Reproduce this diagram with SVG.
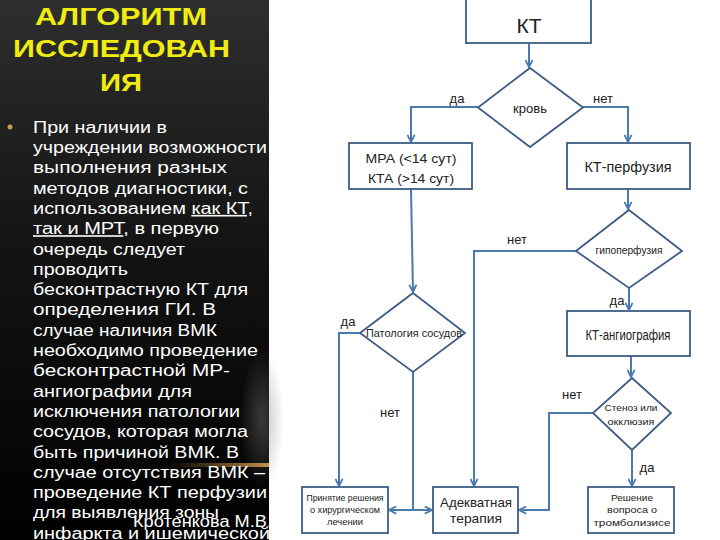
<svg xmlns="http://www.w3.org/2000/svg" width="720" height="540" viewBox="0 0 720 540">
<defs>
<linearGradient id="panel" x1="0" y1="0" x2="0" y2="1">
<stop offset="0" stop-color="#2e2e2e"/>
<stop offset="0.45" stop-color="#141414"/>
<stop offset="1" stop-color="#000"/>
</linearGradient>
<linearGradient id="streak" x1="0" y1="0" x2="1" y2="0">
<stop offset="0" stop-color="#c08a40" stop-opacity="0"/>
<stop offset="1" stop-color="#d8a050" stop-opacity="0.9"/>
</linearGradient>
<radialGradient id="glow" cx="0.5" cy="0.5" r="0.5">
<stop offset="0" stop-color="#777" stop-opacity="0.45"/>
<stop offset="1" stop-color="#777" stop-opacity="0"/>
</radialGradient>
<marker id="ah" viewBox="0 0 10 10" refX="9" refY="5" markerWidth="9" markerHeight="9" markerUnits="userSpaceOnUse" orient="auto-start-reverse">
<path d="M1,1 L9,5 L1,9" fill="none" stroke="#4a7ab0" stroke-width="2"/>
</marker>
</defs>
<style>
.title{font-family:"Liberation Sans",Arial,sans-serif;font-weight:bold;font-size:24px;fill:#f0ec10}
.body{font-family:"Liberation Sans",Arial,sans-serif;font-size:16px;fill:#ffffff}
.u{text-decoration:underline}
.box{fill:#ffffff;stroke:#3e5d85;stroke-width:1.8}
.dia{fill:#ffffff;stroke:#3e5d85;stroke-width:1.8}
.conn{fill:none;stroke:#4a7ab0;stroke-width:2}
.arr{marker-end:url(#ah)}
.t{font-family:"Liberation Sans",Arial,sans-serif;fill:#222;text-anchor:middle}
.lbl{font-family:"Liberation Sans",Arial,sans-serif;font-size:13px;fill:#222;text-anchor:middle}
</style>
<rect x="0" y="0" width="720" height="540" fill="#ffffff"/>
<rect x="0" y="0" width="269" height="540" fill="url(#panel)"/>
<ellipse cx="262" cy="420" rx="22" ry="70" fill="url(#glow)"/>
<rect x="170" y="463" width="99" height="4" fill="url(#streak)"/>

<g id="left-text">
<text class="title" x="35" y="25" textLength="172" lengthAdjust="spacingAndGlyphs">АЛГОРИТМ</text>
<text class="title" x="13" y="57" textLength="217" lengthAdjust="spacingAndGlyphs">ИССЛЕДОВАН</text>
<text class="title" x="100" y="91" textLength="42" lengthAdjust="spacingAndGlyphs">ИЯ</text>
<circle cx="10" cy="127" r="2.5" fill="#c8a048"/>
<text class="body" x="33" y="132.7" textLength="134" lengthAdjust="spacingAndGlyphs">При наличии в</text>
<text class="body" x="33" y="153" textLength="234" lengthAdjust="spacingAndGlyphs">учреждении возможности</text>
<text class="body" x="33" y="173.3" textLength="194" lengthAdjust="spacingAndGlyphs">выполнения разных</text>
<text class="body" x="33" y="193.6" textLength="215" lengthAdjust="spacingAndGlyphs">методов диагностики, с</text>
<text class="body" x="33" y="213.9" textLength="220" lengthAdjust="spacingAndGlyphs">использованием <tspan class="u">как КТ,</tspan></text>
<text class="body" x="33" y="234.2" textLength="186" lengthAdjust="spacingAndGlyphs"><tspan class="u">так и МРТ</tspan>, в первую</text>
<text class="body" x="33" y="254.5" textLength="152" lengthAdjust="spacingAndGlyphs">очередь следует</text>
<text class="body" x="33" y="274.8" textLength="95" lengthAdjust="spacingAndGlyphs">проводить</text>
<text class="body" x="33" y="295.1" textLength="215" lengthAdjust="spacingAndGlyphs">бесконтрастную КТ для</text>
<text class="body" x="33" y="315.4" textLength="183" lengthAdjust="spacingAndGlyphs">определения ГИ. В</text>
<text class="body" x="33" y="335.7" textLength="184" lengthAdjust="spacingAndGlyphs">случае наличия ВМК</text>
<text class="body" x="33" y="356" textLength="225" lengthAdjust="spacingAndGlyphs">необходимо проведение</text>
<text class="body" x="33" y="376.3" textLength="197" lengthAdjust="spacingAndGlyphs">бесконтрастной МР-</text>
<text class="body" x="33" y="396.6" textLength="159" lengthAdjust="spacingAndGlyphs">ангиографии для</text>
<text class="body" x="33" y="416.9" textLength="207" lengthAdjust="spacingAndGlyphs">исключения патологии</text>
<text class="body" x="33" y="437.2" textLength="215" lengthAdjust="spacingAndGlyphs">сосудов, которая могла</text>
<text class="body" x="33" y="457.5" textLength="206" lengthAdjust="spacingAndGlyphs">быть причиной ВМК. В</text>
<text class="body" x="33" y="477.8" textLength="232" lengthAdjust="spacingAndGlyphs">случае отсутствия ВМК –</text>
<text class="body" x="33" y="498.1" textLength="234" lengthAdjust="spacingAndGlyphs">проведение КТ перфузии</text>
<text class="body" x="33" y="518.4" textLength="186" lengthAdjust="spacingAndGlyphs">для выявления зоны</text>
<text class="body" x="33" y="538.7" textLength="237" lengthAdjust="spacingAndGlyphs">инфаркта и ишемической</text>
<text class="body" x="133" y="527" textLength="139" lengthAdjust="spacingAndGlyphs">Кротенкова М.В.</text>
</g>

<g id="connectors">
<path class="conn arr" d="M529,43 L529,67"/>
<path class="conn arr" d="M478,107 L411,107 L411,142"/>
<path class="conn arr" d="M583,107 L628,107 L628,142"/>
<path class="conn arr" d="M411,189 L413,292"/>
<path class="conn arr" d="M628,189 L628,209"/>
<path class="conn arr" d="M576,251 L474,251 L474,486"/>
<path class="conn arr" d="M629,288 L629,310"/>
<path class="conn arr" d="M631,356 L631,377"/>
<path class="conn arr" d="M360,333 L339,333 L339,486"/>
<path class="conn" d="M413,372 L413,510"/>
<path class="conn" d="M389,510 L432,510" marker-start="url(#ah)" marker-end="url(#ah)"/>
<path class="conn arr" d="M593,413 L549,413 L549,510 L519,510"/>
<path class="conn arr" d="M632,450 L632,486"/>
<text class="lbl" x="457" y="103">да</text>
<text class="lbl" x="603" y="103">нет</text>
<text class="lbl" x="517" y="244">нет</text>
<text class="lbl" x="617" y="305">да</text>
<text class="lbl" x="348" y="326">да</text>
<text class="lbl" x="390" y="417">нет</text>
<text class="lbl" x="572" y="399">нет</text>
<text class="lbl" x="647" y="472">да</text>
</g>

<g id="node-kt">
<rect class="box" x="466" y="-3" width="125" height="46"/>
<text class="t" x="529" y="33" font-size="21">КТ</text>
</g>
<g id="node-krov">
<polygon class="dia" points="530,68 583,107.5 530,147 478,107.5"/>
<text class="t" x="530" y="113" font-size="13">кровь</text>
</g>
<g id="node-mra">
<rect class="box" x="349" y="143" width="123" height="46"/>
<text class="t" x="411" y="163" font-size="13.5" textLength="91" lengthAdjust="spacingAndGlyphs">МРА (&lt;14 сут)</text>
<text class="t" x="411" y="183" font-size="13.5" textLength="86" lengthAdjust="spacingAndGlyphs">КТА (&gt;14 сут)</text>
</g>
<g id="node-ktperf">
<rect class="box" x="567" y="143" width="123" height="46"/>
<text class="t" x="628" y="172" font-size="14" textLength="87" lengthAdjust="spacingAndGlyphs">КТ-перфузия</text>
</g>
<g id="node-hypo">
<polygon class="dia" points="629,210 682,251 629,288 576,251"/>
<text class="t" x="629" y="254" font-size="10" textLength="67" lengthAdjust="spacingAndGlyphs">гипоперфузия</text>
</g>
<g id="node-patol">
<polygon class="dia" points="413,293 465,333 413,372 360,333"/>
<text class="t" x="414" y="337" font-size="10.5" textLength="96" lengthAdjust="spacingAndGlyphs">Патология сосудов</text>
</g>
<g id="node-ktang">
<rect class="box" x="567" y="311" width="123" height="45"/>
<text class="t" x="628" y="340" font-size="14" textLength="85" lengthAdjust="spacingAndGlyphs">КТ-ангиография</text>
</g>
<g id="node-stenoz">
<polygon class="dia" points="632,378 671,413 632,450 593,413"/>
<text class="t" x="631" y="411" font-size="9.5" textLength="53" lengthAdjust="spacingAndGlyphs">Стеноз или</text>
<text class="t" x="631" y="425" font-size="9.5" textLength="47" lengthAdjust="spacingAndGlyphs">окклюзия</text>
</g>
<g id="node-surg">
<rect class="box" x="302" y="487" width="86" height="46"/>
<text class="t" x="345" y="501" font-size="9" textLength="77" lengthAdjust="spacingAndGlyphs">Принятие решения</text>
<text class="t" x="345" y="513" font-size="9" textLength="70" lengthAdjust="spacingAndGlyphs">о хирургическом</text>
<text class="t" x="345" y="525" font-size="9" textLength="36" lengthAdjust="spacingAndGlyphs">лечении</text>
</g>
<g id="node-therapy">
<rect class="box" x="433" y="487" width="85" height="46" stroke-width="2.2"/>
<text class="t" x="476" y="507" font-size="13.5" textLength="72" lengthAdjust="spacingAndGlyphs">Адекватная</text>
<text class="t" x="476" y="523" font-size="13.5" textLength="52" lengthAdjust="spacingAndGlyphs">терапия</text>
</g>
<g id="node-thromb">
<rect class="box" x="588" y="487" width="86" height="46"/>
<text class="t" x="632" y="501" font-size="9.5" textLength="42" lengthAdjust="spacingAndGlyphs">Решение</text>
<text class="t" x="632" y="513" font-size="9.5" textLength="50" lengthAdjust="spacingAndGlyphs">вопроса о</text>
<text class="t" x="632" y="526" font-size="9.5" textLength="77" lengthAdjust="spacingAndGlyphs">тромболизисе</text>
</g>
</svg>
